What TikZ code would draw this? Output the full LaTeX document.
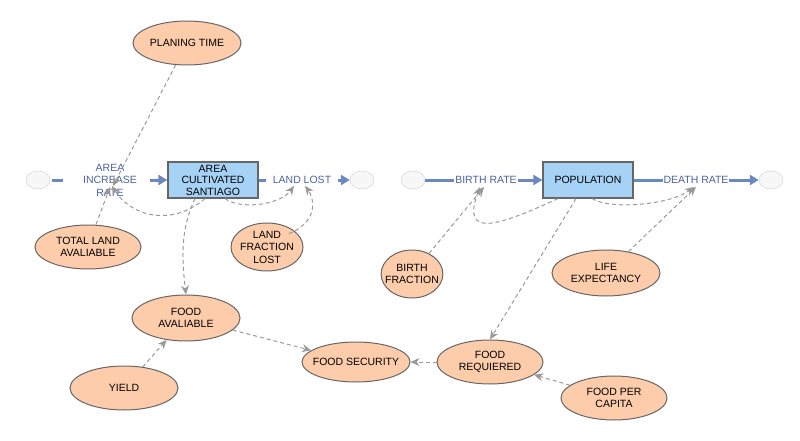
\documentclass[tikz,border=0pt]{standalone}
\usepackage{fontspec}
\setmainfont{Liberation Sans}
\usetikzlibrary{arrows.meta,shapes.geometric}
\definecolor{pipe}{HTML}{6C88C0}
\definecolor{flowtxt}{HTML}{4A62A0}
\definecolor{stockf}{HTML}{A6D2F6}
\definecolor{auxf}{HTML}{FDCCAA}
\tikzset{
 stock/.style={draw=black!60,line width=1.2pt,fill=stockf,minimum width=90pt,minimum height=36pt,align=center,font=\fontsize{10.5}{11.5}\selectfont,inner sep=0pt},
 aux/.style={ellipse,draw=black!60,line width=1pt,fill=auxf,align=center,font=\fontsize{10.5}{12.5}\selectfont,inner sep=-5pt},
 flow/.style={text=flowtxt,align=center,font=\fontsize{10.5}{12.5}\selectfont,inner sep=1pt},
 cloud/.style={ellipse,draw=black!20,fill=black!3,minimum width=24pt,minimum height=18pt,inner sep=0pt},
 pipe/.style={draw=pipe,line width=3pt},
 pipearr/.style={pipe,-{Triangle[length=9pt,width=10pt]}},
 link/.style={draw=black!40,line width=1pt,dash pattern=on 4pt off 3pt,-{Stealth[length=9pt,width=8pt]}}
}
\begin{document}
\begin{tikzpicture}[x=1pt,y=-1pt]
\useasboundingbox (0,0) rectangle (800,441);
% clouds
\node[cloud] (c1) at (38,180) {};
\node[cloud] (c2) at (362,180) {};
\node[cloud] (c3) at (413,180) {};
\node[cloud] (c4) at (771,180) {};
% stocks
\node[stock] (ac) at (213,180) {AREA\\CULTIVATED\\SANTIAGO};
\node[stock] (pop) at (588,180) {POPULATION};
% pipes
\coordinate (p1) at (52,180);
\coordinate (p2) at (63,180);
\draw[pipe] (p1) -- (p2);
\coordinate (p3a) at (150,180);
\draw[pipearr] (p3a) -- (ac.west);
\coordinate (p4) at (266,180);
\draw[pipe] (ac.east) -- (p4);
\coordinate (p5) at (338,180);
\draw[pipearr] (p5) -- (c2.west);
\draw[pipearr] (c3.east) -- (pop.west);
\draw[pipearr] (pop.east) -- (c4.west);
% flow labels
\node[flow] (air) at (110,180) {AREA\\INCREASE\\RATE};
\node[flow] (ll) at (302,180) {LAND LOST};
\node[flow,fill=white] (br) at (486,180) {BIRTH RATE};
\node[flow,fill=white] (dr) at (696,180) {DEATH RATE};
% aux
\node[aux,minimum width=108pt,minimum height=44pt] (pt) at (187,43) {PLANING TIME};
\node[aux,minimum width=106pt,minimum height=44pt] (tla) at (88,247) {TOTAL LAND\\AVALIABLE};
\node[aux,minimum width=72pt,minimum height=48pt] (lfl) at (267,247) {LAND\\FRACTION\\LOST};
\node[aux,minimum width=108pt,minimum height=46pt] (fa) at (186,318) {FOOD\\AVALIABLE};
\node[aux,minimum width=108pt,minimum height=44pt] (y) at (124,388) {YIELD};
\node[aux,minimum width=108pt,minimum height=40pt] (fs) at (356,362) {FOOD SECURITY};
\node[aux,minimum width=106pt,minimum height=44pt] (fr) at (490,362) {FOOD\\REQUIERED};
\node[aux,minimum width=106pt,minimum height=44pt] (fpc) at (614,398) {FOOD PER\\CAPITA};
\node[aux,minimum width=60pt,minimum height=48pt] (bf) at (412,274) {BIRTH\\FRACTION};
\node[aux,minimum width=108pt,minimum height=46pt] (le) at (606,273) {LIFE\\EXPECTANCY};
% links
\coordinate (airT) at (113,186);
\draw[link] (pt) -- (airT);
\draw[link] (tla.north) ++(8,0) coordinate (tlaT) (tlaT) -- (110,187);
\draw[link] (ac.south) ++(-8,0) coordinate (acS1) (acS1) .. controls (170,228) and (130,215) .. (112,186);
\draw[link] (ac.south) ++(12,0) coordinate (acS2) (acS2) .. controls (240,210) and (280,205) .. (294,186);
\draw[link] (lfl.north east) ++(-4,4) coordinate (lflT) (lflT) .. controls (322,220) and (312,195) .. (305,186);
\draw[link] (ac.south) ++(-18,0) coordinate (acS3) (acS3) .. controls (180,230) and (182,260) .. (fa.north);
\draw[link] (y) -- (fa);
\draw[link] (fa) -- (fs);
\draw[link] (fr) -- (fs);
\draw[link] (fpc) -- (fr);
\draw[link] (pop.south) ++(-12,0) coordinate (popS1) (popS1) -- (fr.north);
\draw[link] (bf) -- (484,187);
\draw[link] (pop.south) ++(-30,0) coordinate (popS2) (popS2) .. controls (500,225) and (460,240) .. (480,187);
\draw[link] (pop.south) ++(4,0) coordinate (popS3) (popS3) .. controls (610,210) and (670,205) .. (694,187);
\draw[link] (le) -- (696,187);
\end{tikzpicture}
\end{document}
